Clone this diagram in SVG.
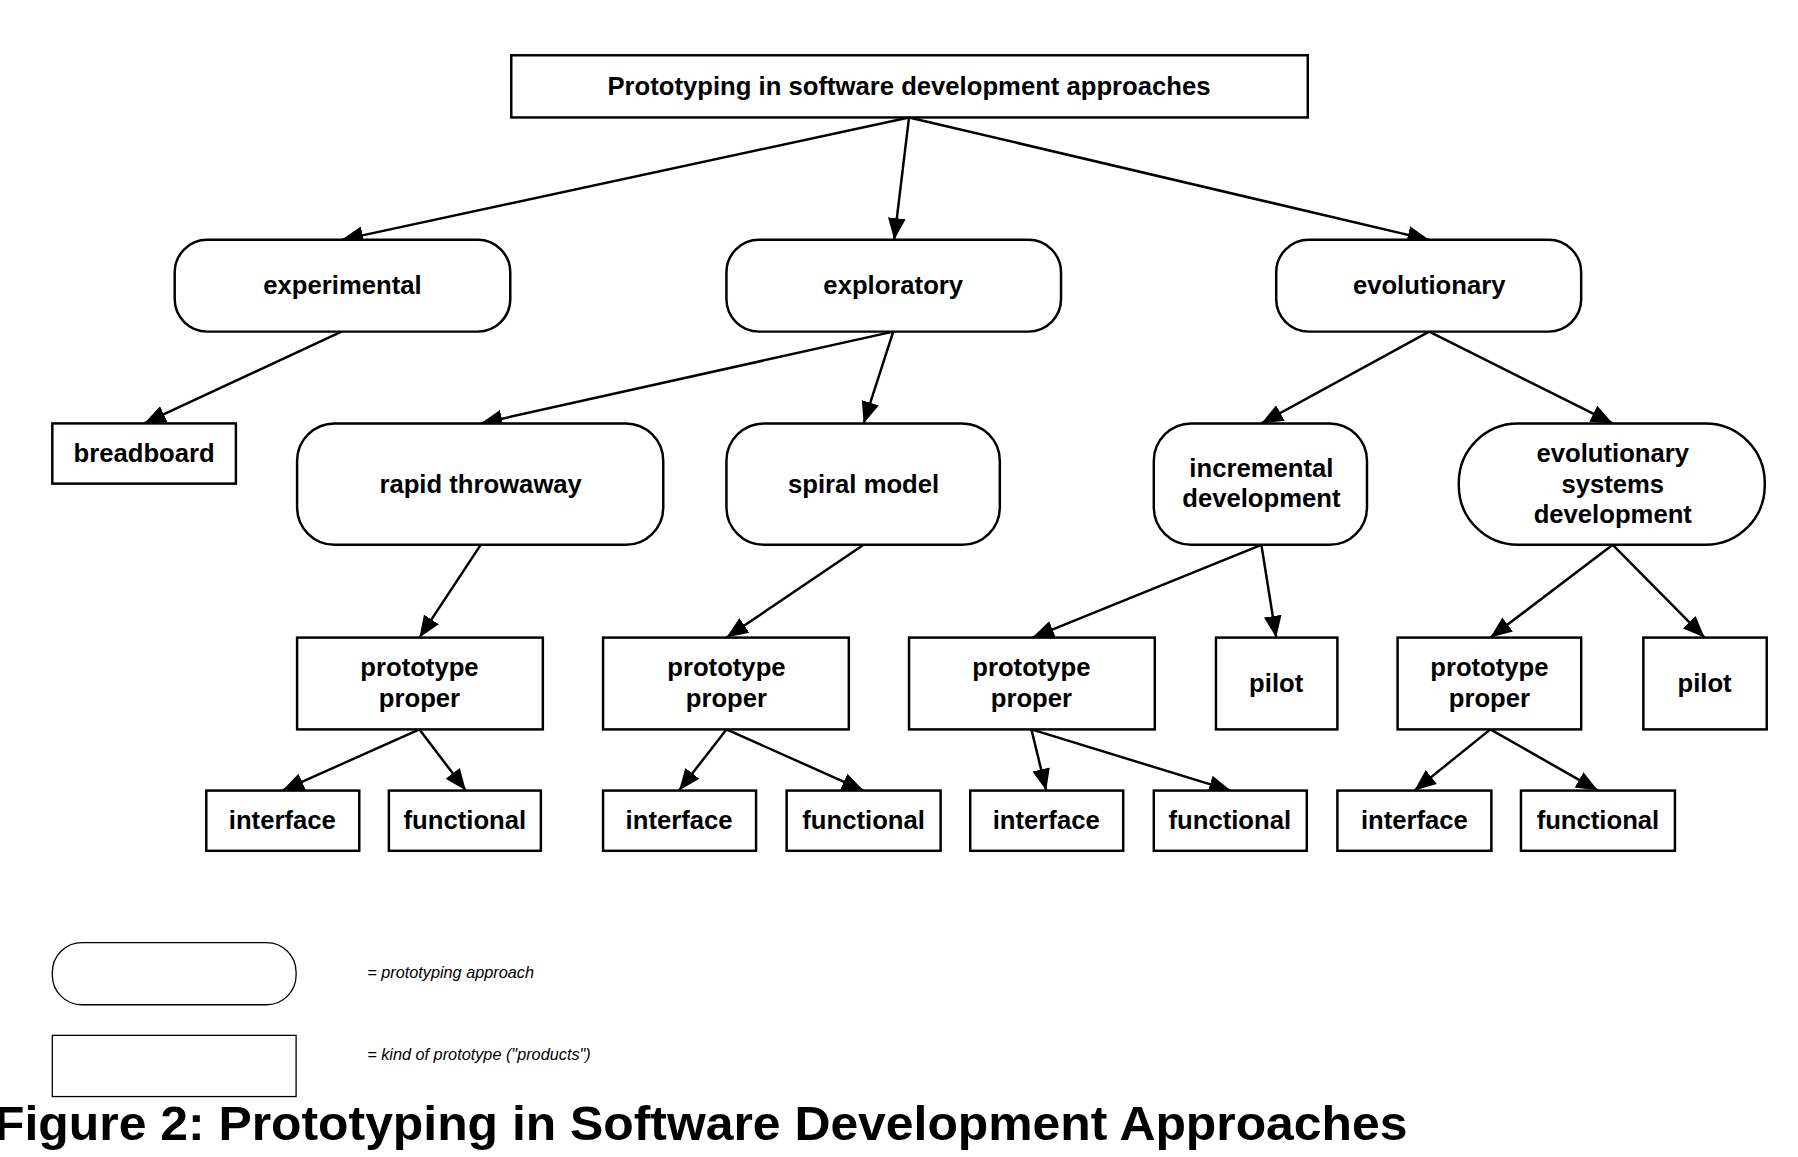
<svg xmlns="http://www.w3.org/2000/svg" width="1798" height="1157" viewBox="0 0 1798 1157">
<defs>
<style>
.n{fill:#fff;stroke:#000;stroke-width:2.5}
.t{font-family:"Liberation Sans",Arial,sans-serif;font-weight:bold;font-size:26px;text-anchor:middle;fill:#000}
.e{stroke:#000;stroke-width:2.5;fill:none;marker-end:url(#a)}
.l{fill:#fff;stroke:#000;stroke-width:1.3}
.lt{font-family:"Liberation Sans",Arial,sans-serif;font-style:italic;font-size:16.5px;fill:#000}
</style>
<marker id="a" markerUnits="userSpaceOnUse" markerWidth="24" markerHeight="20" refX="22" refY="10" orient="auto" viewBox="0 0 24 20"><path d="M0,1 L22,10 L0,19 Z" fill="#000"/></marker>
</defs>
<rect width="1798" height="1157" fill="#fff"/>
<g transform="scale(0.987)">
<g id="connectors">
<line class="e" x1="921" y1="119" x2="346" y2="243"/>
<line class="e" x1="921" y1="119" x2="906" y2="243"/>
<line class="e" x1="921" y1="119" x2="1448" y2="243"/>
<line class="e" x1="346" y1="336" x2="146" y2="429"/>
<line class="e" x1="905" y1="336" x2="487" y2="429"/>
<line class="e" x1="905" y1="336" x2="875" y2="429"/>
<line class="e" x1="1448" y1="336" x2="1278" y2="429"/>
<line class="e" x1="1448" y1="336" x2="1634" y2="429"/>
<line class="e" x1="487" y1="552" x2="425" y2="646"/>
<line class="e" x1="875" y1="552" x2="736" y2="646"/>
<line class="e" x1="1278" y1="552" x2="1046" y2="646"/>
<line class="e" x1="1278" y1="552" x2="1293" y2="646"/>
<line class="e" x1="1634" y1="552" x2="1510" y2="646"/>
<line class="e" x1="1634" y1="552" x2="1727" y2="646"/>
<line class="e" x1="425" y1="739" x2="286" y2="801"/>
<line class="e" x1="425" y1="739" x2="472" y2="801"/>
<line class="e" x1="736" y1="739" x2="688" y2="801"/>
<line class="e" x1="736" y1="739" x2="875" y2="801"/>
<line class="e" x1="1045" y1="739" x2="1060" y2="801"/>
<line class="e" x1="1045" y1="739" x2="1247" y2="801"/>
<line class="e" x1="1510" y1="739" x2="1433" y2="801"/>
<line class="e" x1="1510" y1="739" x2="1619" y2="801"/>
</g>
<g id="root"><rect class="n" x="518" y="56" width="807" height="63"/><text class="t" x="921" y="96">Prototyping in software development approaches</text></g>
<g id="experimental"><rect class="n" x="177" y="243" width="340" height="93" rx="33"/><text class="t" x="347" y="298">experimental</text></g>
<g id="exploratory"><rect class="n" x="736" y="243" width="339" height="93" rx="33"/><text class="t" x="905" y="298">exploratory</text></g>
<g id="evolutionary"><rect class="n" x="1293" y="243" width="309" height="93" rx="33"/><text class="t" x="1448" y="298">evolutionary</text></g>
<g id="breadboard"><rect class="n" x="53" y="429" width="186" height="61"/><text class="t" x="146" y="468">breadboard</text></g>
<g id="rapid"><rect class="n" x="301" y="429" width="371" height="123" rx="38"/><text class="t" x="487" y="499">rapid throwaway</text></g>
<g id="spiral"><rect class="n" x="736" y="429" width="277" height="123" rx="38"/><text class="t" x="875" y="499">spiral model</text></g>
<g id="incremental"><rect class="n" x="1169" y="429" width="216" height="123" rx="38"/><text class="t" x="1278" y="483">incremental</text><text class="t" x="1278" y="514">development</text></g>
<g id="esd"><rect class="n" x="1478" y="429" width="310" height="123" rx="60"/><text class="t" x="1634" y="468">evolutionary</text><text class="t" x="1634" y="499">systems</text><text class="t" x="1634" y="530">development</text></g>
<g id="pp1"><rect class="n" x="301" y="646" width="249" height="93"/><text class="t" x="425" y="685">prototype</text><text class="t" x="425" y="716">proper</text></g>
<g id="pp2"><rect class="n" x="611" y="646" width="249" height="93"/><text class="t" x="736" y="685">prototype</text><text class="t" x="736" y="716">proper</text></g>
<g id="pp3"><rect class="n" x="921" y="646" width="249" height="93"/><text class="t" x="1045" y="685">prototype</text><text class="t" x="1045" y="716">proper</text></g>
<g id="pilot1"><rect class="n" x="1232" y="646" width="123" height="93"/><text class="t" x="1293" y="701">pilot</text></g>
<g id="pp4"><rect class="n" x="1416" y="646" width="186" height="93"/><text class="t" x="1509" y="685">prototype</text><text class="t" x="1509" y="716">proper</text></g>
<g id="pilot2"><rect class="n" x="1665" y="646" width="125" height="93"/><text class="t" x="1727" y="701">pilot</text></g>
<g id="int1"><rect class="n" x="209" y="801" width="155" height="61"/><text class="t" x="286" y="840">interface</text></g>
<g id="func1"><rect class="n" x="394" y="801" width="154" height="61"/><text class="t" x="471" y="840">functional</text></g>
<g id="int2"><rect class="n" x="611" y="801" width="155" height="61"/><text class="t" x="688" y="840">interface</text></g>
<g id="func2"><rect class="n" x="797" y="801" width="156" height="61"/><text class="t" x="875" y="840">functional</text></g>
<g id="int3"><rect class="n" x="983" y="801" width="155" height="61"/><text class="t" x="1060" y="840">interface</text></g>
<g id="func3"><rect class="n" x="1169" y="801" width="155" height="61"/><text class="t" x="1246" y="840">functional</text></g>
<g id="int4"><rect class="n" x="1355" y="801" width="156" height="61"/><text class="t" x="1433" y="840">interface</text></g>
<g id="func4"><rect class="n" x="1541" y="801" width="156" height="61"/><text class="t" x="1619" y="840">functional</text></g>
<g id="legend">
<rect class="l" x="53" y="955" width="247" height="63" rx="30"/>
<text class="lt" x="372" y="991">= prototyping approach</text>
<rect class="l" x="53" y="1049" width="247" height="62"/>
<text class="lt" x="372" y="1074">= kind of prototype ("products")</text>
</g>
<text x="-6" y="1155" font-family="'Liberation Sans',Arial,sans-serif" font-weight="bold" font-size="48" textLength="1432" lengthAdjust="spacingAndGlyphs">Figure 2: Prototyping in Software Development Approaches</text>
</g>
</svg>
